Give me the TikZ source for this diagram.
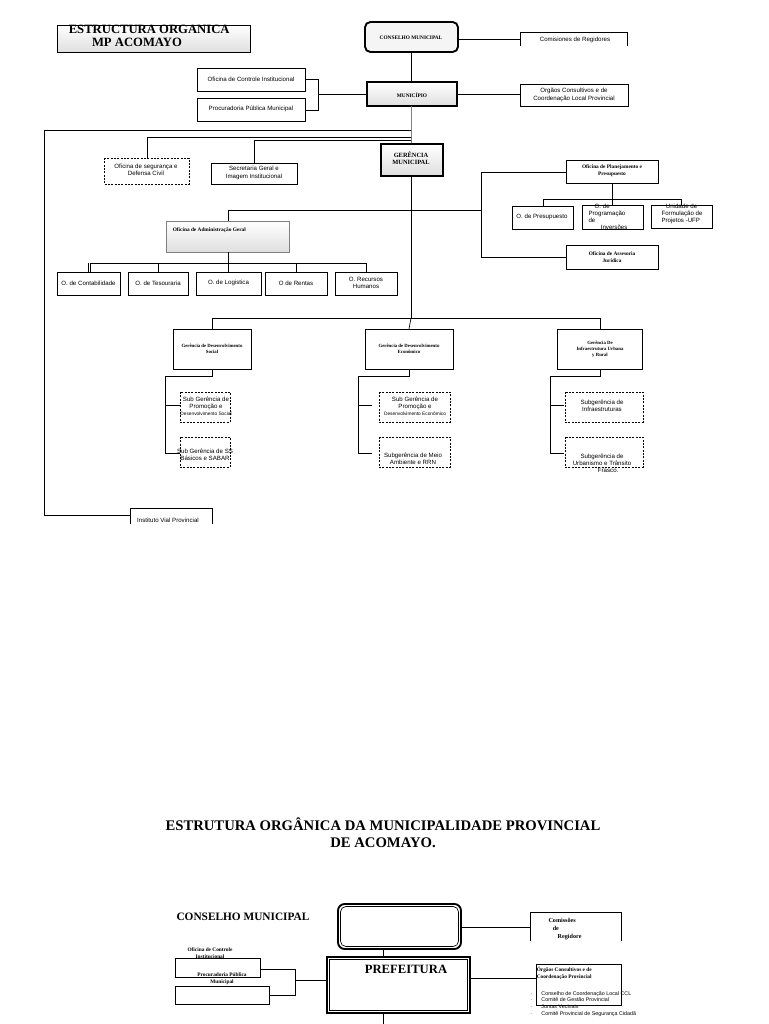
\documentclass[tikz,border=0pt]{standalone}
\usepackage{fontspec}
\setmainfont{Liberation Serif}
\newfontfamily\sans{Liberation Sans}
\begin{document}
\begin{tikzpicture}[x=0.75pt,y=-0.75pt,line width=0.5pt,
  bx/.style={draw,inner sep=0pt,font=\sans\fontsize{4.6}{5.4}\selectfont,align=center},
  sb/.style={font=\bfseries\fontsize{4}{5}\selectfont,align=center},
  dsh/.style={draw,dashed,dash pattern=on 1.5pt off 1pt}]
\useasboundingbox (0,0) rectangle (768,1024);
\fill[white] (0,0) rectangle (768,1024);
% title
\shade[top color=white,bottom color=gray!25,draw] (57,25) rectangle (250,52);
\node[font=\bfseries\fontsize{9.5}{10}\selectfont,anchor=west] (t1) at (64,29) {ESTRUCTURA ORGANICA};
\node[font=\bfseries\fontsize{9.5}{10}\selectfont] (t2) at (137,42) {MP ACOMAYO};
% conselho
\draw[line width=1.4pt,rounded corners=4pt,fill=gray!8] (365,22) rectangle (458,52);
\node[sb] (cons) at (411,38) {CONSELHO MUNICIPAL};
\draw (520,46)--(520,32)--(627,32)--(627,46);
\node[bx,draw=none] (com) at (575,40) {Comisiones de Regidores};
\draw (458,39)--(520,39);
% municipio
\shade[top color=white,bottom color=gray!25] (367,82) rectangle (457,106);
\draw[line width=1.4pt] (367,82) rectangle (457,106);
\node[sb] (mun) at (412,95) {MUNICÍPIO};
\draw (520,84) rectangle (628,106);
\node[bx,draw=none] (org) at (574,95) {Orgãos Consultivos e de\\Coordenação Local Provincial};
\draw (457,94)--(520,94);
\draw (197,68) rectangle (305,91); \node[bx,draw=none] (oci) at (251,79) {Oficina de Controle Institucional};
\draw (197,98) rectangle (305,121); \node[bx,draw=none] (ppm) at (251,109) {Procuradoria Pública Municipal};
\draw (305,79)--(318,79)--(318,110)--(305,110); \draw (318,94)--(367,94);
% main vertical
\draw (411,52)--(411,82); \draw[gray] (411,106)--(411,144); \draw (411,176)--(411,318);
% left lines
\draw (411,130)--(44,130)--(44,515)--(130,515);
\draw (130,524)--(130,508)--(212,508)--(212,524);
\node[bx,draw=none] (ivp) at (168,520) {Instituto Vial Provincial};
\draw (411,137)--(147,137)--(147,158);
\draw[dsh] (104,158) rectangle (189,184);
\node[bx,draw=none] (seg) at (146,170) {Oficina de segurança e\\Defensa Civil};
\draw (411,140)--(254,140)--(254,163);
\draw (211,163) rectangle (297,184);
\node[bx,draw=none] (sec) at (254,173) {Secretaria Geral e\\Imagem Institucional};
% gerencia
\shade[top color=white,bottom color=gray!25] (381,144) rectangle (443,176);
\draw[line width=1.2pt] (381,144) rectangle (443,176);
\node[sb,font=\bfseries\fontsize{4.8}{5.6}\selectfont] (ger) at (411,158) {GERÊNCIA\\MUNICIPAL};
% admin
\draw (228,221)--(228,210)--(481,210);
\shade[top color=white,bottom color=gray!25,draw=gray] (166,221) rectangle (289,252);
\node[sb,anchor=west] (adm) at (168,230) {Oficina de Administração Geral};
\draw (228,252)--(228,263); \draw (90,272)--(90,263)--(366,263)--(366,272);
\foreach \a/\b/\t/\n in {57/120/O. de Contabilidade/c1,128/188/O. de Tesouraria/c2,196/261/O. de Logistica/c3,265/327/O de Rentas/c4,335/397/{O. Recursos\\Humanos}/c5}{
  \draw ({(\a+\b)/2},263)--({(\a+\b)/2},272);
  \draw (\a,272) rectangle (\b,295);
  \node[bx,draw=none] (\n) at ({(\a+\b)/2},283) {\t};}
% planning
\draw (566,172)--(481,172)--(481,257)--(566,257);
\draw (566,160) rectangle (658,183); \node[sb] (pla) at (612,171) {Oficina de Planejamento e\\Presupuesto};
\draw (566,245) rectangle (658,269); \node[sb] (ase) at (612,257) {Oficina de Assesoria\\Jurídica};
\draw (612,183)--(612,205); \draw (543,206)--(543,199)--(681,199)--(681,205);
\draw (512,206) rectangle (573,229); \node[bx,draw=none] (pre) at (542,217) {O. de Presupuesto};
\draw (582,205) rectangle (643,229); \node[bx,draw=none,align=left] (prg) at (608,217) {\hspace*{1em}O. de\\Programação\\de\\\hspace*{2em}Inversões};
\draw (651,205) rectangle (712,228); \node[bx,draw=none,align=left] (ufp) at (682,214) {\hspace*{0.7em}Unidade de\\Formulação de\\Projetos -UFP};
% gerencias
\draw (212,329)--(212,318)--(600,318)--(600,329); \draw (411,318)--(409,329);
\foreach \a/\b/\c/\t/\tr/\n in {173/251/212/{Gerência de Desenvolvimento\\Social}/165/g1,365/453/409/{Gerência de Desenvolvimento\\Econômico}/358/g2,557/642/600/{Gerência De\\Infraestrutura Urbana\\y Rural}/550/g3}{
  \draw (\a,329) rectangle (\b,369);
  \node[sb,font=\bfseries\fontsize{3.6}{4.6}\selectfont] (\n) at (\c,349) {\t};
  \draw (\c,369)--(\c,376)--(\tr,376)--(\tr,453);
  \draw (\tr,405)--({\a+7},405); \draw (\tr,453)--({\a+7},453);}
\draw[dsh] (180,392) rectangle (230,422); \node[bx,draw=none] (s1) at (206,406) {Sub Gerência de\\Promoção e\\{\fontsize{3.6}{4}\selectfont Desenvolvimento Social}};
\draw[dsh] (180,437) rectangle (230,467); \node[bx,draw=none] (s2) at (205,455) {Sub Gerência de SS\\Básicos e SABAR};
\draw[dsh] (379,392) rectangle (450,422); \node[bx,draw=none] (s3) at (415,406) {Sub Gerência de\\Promoção e\\{\fontsize{3.6}{4}\selectfont Desenvolvimento Econômico}};
\draw[dsh] (379,437) rectangle (450,467); \node[bx,draw=none] (s4) at (413,459) {Subgerência de Meio\\Ambiente e RRN};
\draw[dsh] (565,392) rectangle (643,422); \node[bx,draw=none] (s5) at (602,406) {Subgerência de\\Infraestruturas};
\draw[dsh] (565,437) rectangle (643,467); \node[bx,draw=none] (s6) at (602,463) {Subgerência de\\Urbanismo e Trânsito\\\hspace*{2em}Frasco.};
% bottom part
\node[font=\bfseries\fontsize{11}{13}\selectfont,align=center] (bt) at (383,833) {ESTRUTURA ORGÂNICA DA MUNICIPALIDADE PROVINCIAL\\DE ACOMAYO.};
\node[font=\bfseries\fontsize{8.5}{10}\selectfont] (bc) at (243,917) {CONSELHO MUNICIPAL};
\draw[line width=1.4pt,rounded corners=5pt] (338,904) rectangle (461,949);
\draw[rounded corners=4pt] (340.5,906.5) rectangle (458.5,946.5);
\draw (461,927)--(530,927);
\draw (530,941)--(530,912)--(621,912)--(621,941);
\node[sb,font=\bfseries\fontsize{4.6}{6}\selectfont,align=left] (bcom) at (565,929) {Comissões\\\hspace*{0.7em}de\\\hspace*{1.5em}Regidore};
\fill[white] (528,941) rectangle (623,948);
\draw (383,949)--(383,958);
\draw[line width=1.4pt] (327,957) rectangle (470,1013);
\draw (329.5,959.5) rectangle (467.5,1010.5);
\node[font=\bfseries\fontsize{9.5}{11}\selectfont] (pref) at (406,969) {PREFEITURA};
\draw (470,978)--(536,978);
\draw (536,964) rectangle (621,1005);
\node[sb,font=\bfseries\fontsize{4}{5}\selectfont,align=left,anchor=north west] (borg) at (532,962) {Órgãos Consultivos e de\\Coordenação Provincial};
\node[bx,draw=none,anchor=north west,align=left,font=\sans\fontsize{4}{5}\selectfont] (blist) at (530,991) {·\hspace{7pt}Conselho de Coordenação Local CCL\\·\hspace{7pt}Comitê de Gestão Provincial\\·\hspace{7pt}Juntas Vecinais\\·\hspace{7pt}Comitê Provincial de Segurança Cidadã};
\draw (383,1013)--(383,1024);
\draw (175,958) rectangle (260,977);
\draw (175,986) rectangle (269,1004);
\node[sb,font=\bfseries\fontsize{4}{5}\selectfont] (boc) at (210,953) {Oficina de Controle\\Institucional};
\node[sb,font=\bfseries\fontsize{4}{5}\selectfont] (bpp) at (222,979) {Procuradoria Pública\\Municipal};
\draw (260,969)--(295,969)--(295,995)--(269,995); \draw (295,980)--(327,980);
\end{tikzpicture}
\end{document}
